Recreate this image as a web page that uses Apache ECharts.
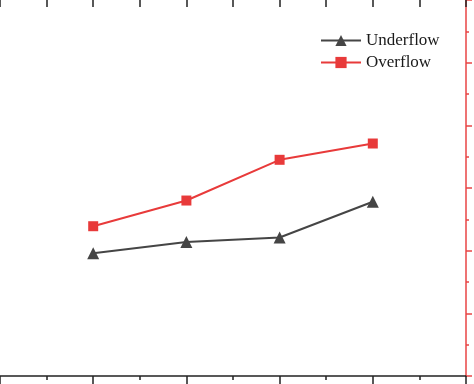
<!DOCTYPE html>
<html>
<head>
<meta charset="utf-8">
<script src="https://cdn.jsdelivr.net/npm/echarts@6/dist/echarts.min.js"></script>
<style>html,body{margin:0;padding:0;background:#fff;}#c{width:474px;height:384px;}</style>
</head>
<body>
<div id="c"></div>
<script>
var xPositions = [1, 2, 3, 4];
var underflow = [1.96, 2.14, 2.21, 2.78];
var overflow = [2.39, 2.80, 3.45, 3.71];
var seriesNames = ['Underflow', 'Overflow'];

function pairs(xs, ys) { return xs.map(function (x, i) { return [x, ys[i]]; }); }

var chart = echarts.init(document.getElementById('c'), null, { renderer: 'canvas' });
chart.setOption({
  animation: false,
  backgroundColor: '#fff',
  grid: { left: 0, right: 8, top: 0, bottom: 8, containLabel: false },
  legend: {
    orient: 'vertical',
    left: 315, top: 27,
    itemWidth: 40, itemHeight: 14, itemGap: 5,
    textStyle: { fontFamily: 'Liberation Serif', fontSize: 17, color: '#1a1a1a' },
    data: seriesNames
  },
  xAxis: [
    {
      type: 'value', position: 'bottom', min: 0, max: 5, interval: 1,
      axisLine: { show: true, onZero: false, lineStyle: { color: '#222', width: 1.5 } },
      axisTick: { show: true, inside: false, length: 8, lineStyle: { color: '#222', width: 1.5 } },
      minorTick: { show: true, splitNumber: 2, length: 4, lineStyle: { color: '#222', width: 1.5 } },
      axisLabel: { show: false },
      splitLine: { show: false }
    },
    {
      type: 'value', position: 'top', min: 0, max: 5, interval: 0.5,
      axisLine: { show: false, onZero: false },
      axisTick: { show: true, inside: true, length: 7, lineStyle: { color: '#222', width: 1.5 } },
      axisLabel: { show: false },
      splitLine: { show: false }
    }
  ],
  yAxis: [
    {
      type: 'value', position: 'right', min: 0, max: 6, interval: 1,
      axisLine: { show: true, onZero: false, lineStyle: { color: '#e84545', width: 1.5 } },
      axisTick: { show: true, inside: false, length: 6, lineStyle: { color: '#e84545', width: 1.5 } },
      minorTick: { show: true, splitNumber: 2, length: 3, lineStyle: { color: '#e84545', width: 1.5 } },
      axisLabel: { show: false },
      splitLine: { show: false }
    }
  ],
  series: [
    {
      name: seriesNames[0], type: 'line', xAxisIndex: 0, yAxisIndex: 0,
      data: pairs(xPositions, underflow),
      symbol: 'triangle', symbolSize: 12,
      itemStyle: { color: '#454545' },
      lineStyle: { color: '#454545', width: 2 }
    },
    {
      name: seriesNames[1], type: 'line', xAxisIndex: 0, yAxisIndex: 0,
      data: pairs(xPositions, overflow),
      symbol: 'rect', symbolSize: 10,
      itemStyle: { color: '#e83a3a' },
      lineStyle: { color: '#e83a3a', width: 2 }
    }
  ]
});
</script>
</body>
</html>
